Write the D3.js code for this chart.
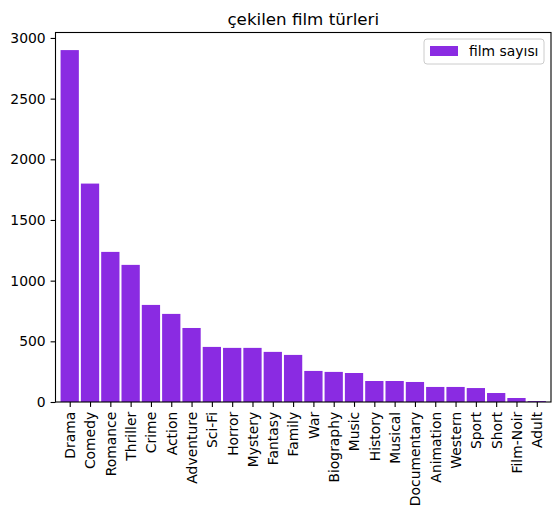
<!DOCTYPE html>
<html>
<head>
<meta charset="utf-8">
<script src="https://cdn.jsdelivr.net/npm/d3@7"></script>
<style>
  body { margin: 0; background: #fff; }
  svg { font-family: "DejaVu Sans", sans-serif; }
</style>
</head>
<body>
<svg id="chart" width="560" height="516"></svg>
<script>
// genres, in the order shown on the chart
const genres = ['Drama', 'Comedy', 'Romance', 'Thriller', 'Crime', 'Action', 'Adventure', 'Sci-Fi',
  'Horror', 'Mystery', 'Fantasy', 'Family', 'War', 'Biography', 'Music', 'History', 'Musical',
  'Documentary', 'Animation', 'Western', 'Sport', 'Short', 'Film-Noir', 'Adult'];
// number of films per genre
const filmCounts = [2900, 1800, 1237, 1130, 800, 726, 610, 454, 446, 446, 413, 388, 256, 248, 239,
  173, 173, 165, 124, 124, 115, 74, 33, 8];
const yTicks = [0, 500, 1000, 1500, 2000, 2500, 3000];

const titleText = 'çekilen film türleri';
const legendText = 'film sayısı';
const barColour = '#8a2be2';

function render() {
  const svg = d3.select('#chart');
  const margin = { top: 32.5, right: 9, bottom: 114, left: 55.5 };
  const width = +svg.attr('width');
  const height = +svg.attr('height');
  const innerWidth = width - margin.left - margin.right;
  const innerHeight = height - margin.top - margin.bottom;
  const fontFamily = '"DejaVu Sans", sans-serif';

  // pandas-like limits: bars of width 0.9, 0.25 padding outside the outer bars
  const xScale = d3.scaleLinear()
    .domain([-0.7, genres.length - 1 + 0.7])
    .range([0, innerWidth]);
  const yScale = d3.scaleLinear()
    .domain([0, d3.max(filmCounts) * 1.05])
    .range([innerHeight, 0]);

  const chart = svg.append('g')
    .attr('transform', `translate(${margin.left}, ${margin.top})`);

  // bars
  chart.append('g').selectAll('rect')
    .data(filmCounts)
    .enter().append('rect')
    .attr('x', (d, i) => xScale(i - 0.45))
    .attr('width', xScale(0.9) - xScale(0))
    .attr('y', d => yScale(d))
    .attr('height', d => yScale(0) - yScale(d))
    .attr('fill', barColour);

  // x axis with rotated genre labels
  const xAxis = d3.axisBottom(xScale)
    .tickValues(d3.range(genres.length))
    .tickFormat(i => genres[i])
    .tickSizeInner(4.9)
    .tickSizeOuter(0)
    .tickPadding(4.9);
  const gx = chart.append('g')
    .attr('transform', `translate(0, ${innerHeight})`)
    .call(xAxis)
    .attr('font-size', 13.9)
    .attr('font-family', fontFamily);
  gx.select('.domain').remove();
  gx.selectAll('.tick line').attr('stroke', '#000').attr('stroke-width', 1.1);
  gx.selectAll('.tick text')
    .attr('fill', '#000')
    .attr('transform', 'rotate(-90)')
    .attr('x', -9.8)
    .attr('y', 0)
    .attr('dy', '0.35em')
    .style('text-anchor', 'end');

  // y axis
  const yAxis = d3.axisLeft(yScale)
    .tickValues(yTicks)
    .tickFormat(d3.format('d'))
    .tickSizeInner(4.9)
    .tickSizeOuter(0)
    .tickPadding(4.9);
  const gy = chart.append('g')
    .call(yAxis)
    .attr('font-size', 13.9)
    .attr('font-family', fontFamily);
  gy.select('.domain').remove();
  gy.selectAll('.tick line').attr('stroke', '#000').attr('stroke-width', 1.1);
  gy.selectAll('.tick text').attr('fill', '#000');

  // frame
  chart.append('rect')
    .attr('width', innerWidth)
    .attr('height', innerHeight)
    .attr('fill', 'none')
    .attr('stroke', '#000')
    .attr('stroke-width', 1.1);

  // title
  svg.append('text')
    .attr('x', margin.left + innerWidth / 2)
    .attr('y', margin.top - 8)
    .attr('text-anchor', 'middle')
    .style('font-size', '16.7px')
    .text(titleText);

  // legend
  const legend = chart.append('g')
    .attr('transform', `translate(${innerWidth - 127}, 6.5)`);
  legend.append('rect')
    .attr('width', 120)
    .attr('height', 25)
    .attr('rx', 3)
    .attr('fill', '#fff')
    .attr('fill-opacity', 0.8)
    .attr('stroke', '#ccc')
    .attr('stroke-width', 1);
  legend.append('rect')
    .attr('x', 6)
    .attr('y', 7)
    .attr('width', 28)
    .attr('height', 10)
    .attr('fill', barColour);
  legend.append('text')
    .attr('x', 45)
    .attr('y', 17)
    .style('font-size', '13.9px')
    .text(legendText);
}

render();
</script>
</body>
</html>
